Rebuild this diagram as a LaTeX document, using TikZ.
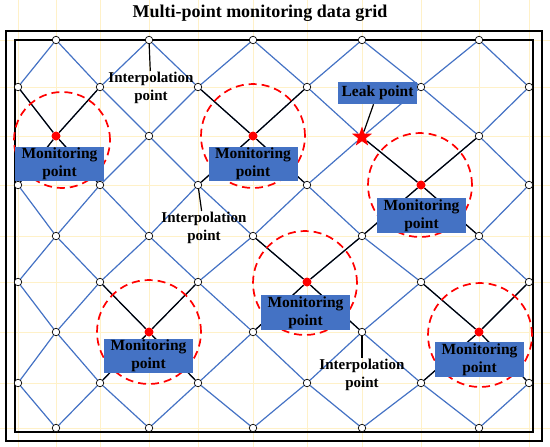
\documentclass[tikz,border=0pt]{standalone}
\usepackage{fontspec}
\setmainfont{Liberation Serif}
\usetikzlibrary{shapes.geometric}
\pgfdeclarelayer{background}
\pgfsetlayers{background,main}
\definecolor{gblue}{HTML}{4472C4}
\definecolor{gyellow}{HTML}{FFF1C8}
\begin{document}
\begin{tikzpicture}[x=1pt,y=-1pt,
  ipt/.style={circle,draw=black,fill=white,line width=0.7pt,inner sep=0pt,minimum size=7.5pt},
  mpt/.style={circle,fill=red,inner sep=0pt,minimum size=9pt},
  leakstar/.style={star,star points=5,star point ratio=2.5,fill=red,inner sep=0pt,minimum size=21pt},
  lat/.style={draw=gblue,line width=1.2pt},
  blk/.style={draw=black,line width=1.2pt},
  faint/.style={draw=gyellow,line width=0.8pt},
  frame/.style={draw=black,line width=2.3pt},
  zone/.style={draw=red,line width=1.7pt,dash pattern=on 8pt off 5pt},
  tag/.style={fill=gblue,text=black,font=\fontsize{15.5}{18}\selectfont\bfseries,align=center,minimum width=89pt,minimum height=32pt,inner sep=1pt},
  note/.style={font=\fontsize{15}{18}\selectfont\bfseries,align=center,inner sep=1pt}]
\useasboundingbox (0,0) rectangle (550,447);
\def\colx{{18,56,100,149,198,253,307,362,421,479,529}}
\def\rowy{{40,87,136,185,236,282,332,383,428}}
% special positions
\expandafter\def\csname sp-1-2\endcsname{}
\expandafter\def\csname sp-5-2\endcsname{}
\expandafter\def\csname sp-8-3\endcsname{}
\expandafter\def\csname sp-6-5\endcsname{}
\expandafter\def\csname sp-3-6\endcsname{}
\expandafter\def\csname sp-9-6\endcsname{}
\expandafter\def\csname sp-7-2\endcsname{}
% title
\node[font=\fontsize{18}{21}\selectfont\bfseries] (title) at (260,13) {Multi-point monitoring data grid};
% lattice nodes
\foreach \i in {0,...,10}{
  \foreach \j in {0,...,8}{
    \ifodd\numexpr\i+\j\relax
      \ifcsname sp-\i-\j\endcsname\else
        \pgfmathsetmacro\xx{\colx[\i]}
        \pgfmathsetmacro\yy{\rowy[\j]}
        \node[ipt] (n-\i-\j) at (\xx,\yy) {};
      \fi
    \fi
  }
}
% monitoring points and leak point
\node[mpt] (n-1-2) at (56,136) {};
\node[mpt] (n-5-2) at (253,136) {};
\node[mpt] (n-8-3) at (421,185) {};
\node[mpt] (n-6-5) at (307,282) {};
\node[mpt] (n-3-6) at (149,332) {};
\node[mpt] (n-9-6) at (479,332) {};
\node[leakstar] (n-7-2) at (362,137) {};
\begin{pgfonlayer}{background}
  \foreach \x in {18,56,100,149,198,253,307,362,421,479,529}
    \draw[faint] (\x,0) -- (\x,447);
  \foreach \y in {40,87,136,185,236,282,332,383,428}
    \draw[faint] (0,\y) -- (550,\y);
  \draw[frame] (6,31) rectangle (542,441);
  \draw[frame] (15,40) rectangle (533,432);
  \foreach \i in {0,...,9}{
    \foreach \j in {0,...,8}{
      \ifodd\numexpr\i+\j\relax
        \pgfmathtruncatemacro\ni{\i+1}
        \pgfmathtruncatemacro\jd{\j+1}
        \pgfmathtruncatemacro\ju{\j-1}
        \ifnum\j<8 \draw[lat] (n-\i-\j) -- (n-\ni-\jd);\fi
        \ifnum\j>0 \draw[lat] (n-\i-\j) -- (n-\ni-\ju);\fi
      \fi
    }
  }
  \foreach \i/\j in {1/2,5/2,8/3,6/5,3/6,9/6}{
    \pgfmathtruncatemacro\il{\i-1}
    \pgfmathtruncatemacro\ir{\i+1}
    \pgfmathtruncatemacro\ju{\j-1}
    \pgfmathtruncatemacro\jd{\j+1}
    \draw[blk] (n-\i-\j) -- (n-\il-\ju);
    \draw[blk] (n-\i-\j) -- (n-\ir-\ju);
    \draw[blk] (n-\i-\j) -- (n-\il-\jd);
    \draw[blk] (n-\i-\j) -- (n-\ir-\jd);
  }
\end{pgfonlayer}
% monitoring zones
\draw[zone] (62,140) circle[radius=48pt];
\draw[zone] (253,136) circle[radius=52pt];
\draw[zone] (420,185) circle[radius=52pt];
\draw[zone] (305,283) circle[radius=52pt];
\draw[zone] (149,332) circle[radius=52pt];
\draw[zone] (480,335) circle[radius=52pt];
% labels
\node[tag] (t1) at (59.5,164) {Monitoring\\point};
\node[tag] (t2) at (253,164) {Monitoring\\point};
\node[tag] (t3) at (421.5,215.5) {Monitoring\\point};
\node[tag] (t4) at (305.5,312.5) {Monitoring\\point};
\node[tag] (t5) at (148.5,356) {Monitoring\\point};
\node[tag] (t6) at (479.5,359.5) {Monitoring\\point};
\node[tag,minimum width=79pt,minimum height=22pt] (lk) at (377.5,93) {Leak point};
\draw[blk] (lk) -- (n-7-2);
\node[note] (i1) at (151,88) {Interpolation\\point};
\node[note] (i2) at (204,228) {Interpolation\\point};
\node[note] (i3) at (362,375) {Interpolation\\point};
\draw[blk] (n-3-0) -- (i1);
\draw[blk] (n-4-3) -- (i2);
\draw[blk] (n-7-6) -- (i3);
\end{tikzpicture}
\end{document}
